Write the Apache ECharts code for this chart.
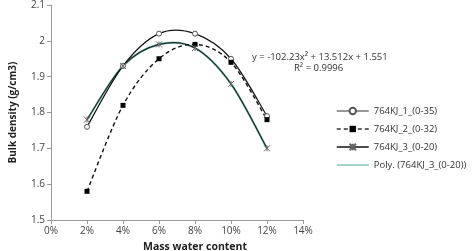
<!DOCTYPE html>
<html><head><meta charset="utf-8">
<script src="https://cdn.jsdelivr.net/npm/echarts@6/dist/echarts.min.js"></script>
<style>html,body{margin:0;padding:0;background:#fff}#c{width:474px;height:251px}</style>
</head><body><div id="c"></div>
<script>
const waterContent = [0.02, 0.04, 0.06, 0.08, 0.10, 0.12];
const s1Name = '764KJ_1_(0-35)';
const s1Values = [1.76, 1.93, 2.02, 2.02, 1.95, 1.79];
const s2Name = '764KJ_2_(0-32)';
const s2Values = [1.58, 1.82, 1.95, 1.99, 1.94, 1.78];
const s3Name = '764KJ_3_(0-20)';
const s3Values = [1.78, 1.93, 1.99, 1.98, 1.88, 1.70];
const polyName = 'Poly. (764KJ_3_(0-20))';
const polyValues = [1.78, 1.93, 1.99, 1.98, 1.88, 1.70];
const xTicks = ['0%','2%','4%','6%','8%','10%','12%','14%'];
const eqText = 'y = -102.23x² + 13.512x + 1.551';
const r2Text = 'R² = 0.9996';

const pair = v => waterContent.map((x, i) => [x, v[i]]);
const font = '"Open Sans", "Noto Sans", sans-serif';
const xMark = 'path://M0,0L10,10M10,0L0,10M5,0L5,10';

// Excel-like smoothed curve (Catmull-Rom Bezier) through points mapped by the axes
function curveSeries(values, lineStyle, z) {
  const pts = pair(values);
  return {
    type: 'custom', z: z, silent: true,
    data: [pts[0]],
    renderItem: (params, api) => {
      const c = pts.map(p => api.coord(p));
      let d = 'M' + c[0][0] + ',' + c[0][1];
      for (let i = 0; i < c.length - 1; i++) {
        const p0 = c[Math.max(i - 1, 0)], p1 = c[i], p2 = c[i + 1], p3 = c[Math.min(i + 2, c.length - 1)];
        const t = 6;
        const c1 = [p1[0] + (p2[0] - p0[0]) / t, p1[1] + (p2[1] - p0[1]) / t];
        const c2 = [p2[0] - (p3[0] - p1[0]) / t, p2[1] - (p3[1] - p1[1]) / t];
        d += 'C' + c1[0] + ',' + c1[1] + ' ' + c2[0] + ',' + c2[1] + ' ' + p2[0] + ',' + p2[1];
      }
      return {type: 'path', shape: {pathData: d},
        style: {fill: 'none', stroke: lineStyle.color, lineWidth: lineStyle.width, lineDash: lineStyle.dash || null}};
    }
  };
}

const TEAL = '#86c4b8';
const L1 = {color: '#111', width: 1.2};
const L2 = {color: '#111', width: 1.4, dash: [4, 3]};
const L3 = {color: '#1a2a28', width: 1.2};
const LP = {color: TEAL, width: 2.2};

const chart = echarts.init(document.getElementById('c'));
chart.setOption({
  animation: false,
  textStyle: {fontFamily: font},
  grid: {left: 47, right: 171, top: 4, bottom: 31},
  xAxis: {
    type: 'value', min: 0, max: 0.14, interval: 0.02,
    axisLine: {lineStyle: {color: '#999'}},
    axisTick: {show: true, length: 4, lineStyle: {color: '#999'}},
    splitLine: {show: false},
    axisLabel: {color: '#444', fontSize: 10, margin: 6,
      formatter: v => xTicks[Math.round(v / 0.02)]}
  },
  yAxis: {
    type: 'value', min: 1.5, max: 2.1, interval: 0.1,
    axisLine: {show: true, lineStyle: {color: '#999'}},
    axisTick: {show: true, length: 4, lineStyle: {color: '#999'}},
    splitLine: {show: false},
    axisLabel: {color: '#444', fontSize: 10, margin: 6,
      formatter: v => String(Math.round(v * 10) / 10)},
    name: 'Bulk density (g/cm3)', nameLocation: 'middle', nameGap: 33,
    nameTextStyle: {color: '#222', fontSize: 10, fontWeight: 'bold'}
  },
  legend: {
    orient: 'vertical', left: 331, top: 101, itemWidth: 32, itemHeight: 8, itemGap: 8,
    textStyle: {color: '#333', fontSize: 9.5},
    data: [
      {name: s1Name, lineStyle: {opacity: 1, color: '#333', width: 1.2}},
      {name: s2Name, lineStyle: {opacity: 1, color: '#333', width: 1.4, type: [4, 3]}},
      {name: s3Name, lineStyle: {opacity: 1, color: '#111', width: 1.4}},
      {name: polyName, lineStyle: {opacity: 1, color: TEAL, width: 1.5}, itemStyle: {opacity: 0}}
    ]
  },
  graphic: [
    {type: 'text', left: 252, top: 52, style: {text: eqText, fill: '#333', font: '9.5px ' + font}},
    {type: 'text', left: 294, top: 63, style: {text: r2Text, fill: '#333', font: '9.5px ' + font}},
    {type: 'text', left: 143, top: 242, style: {text: 'Mass water content', fill: '#222', font: 'bold 10.5px ' + font}}
  ],
  series: [
    curveSeries(polyValues, LP, 1),
    curveSeries(s3Values, L3, 2),
    curveSeries(s1Values, L1, 2),
    curveSeries(s2Values, L2, 2),
    {name: polyName, type: 'line', data: pair(polyValues), symbol: 'none', showSymbol: false,
      lineStyle: {opacity: 0, color: TEAL}, itemStyle: {color: TEAL}, z: 1},
    {name: s1Name, type: 'line', data: pair(s1Values), symbol: 'circle', symbolSize: 5,
      lineStyle: {opacity: 0, color: '#111'},
      itemStyle: {color: '#fff', borderColor: '#555', borderWidth: 1}, z: 3},
    {name: s2Name, type: 'line', data: pair(s2Values), symbol: 'rect', symbolSize: 5,
      lineStyle: {opacity: 0, color: '#111'},
      itemStyle: {color: '#000'}, z: 3},
    {name: s3Name, type: 'line', data: pair(s3Values), symbol: xMark, symbolSize: 6,
      lineStyle: {opacity: 0, color: '#111'},
      itemStyle: {color: '#fff', borderColor: '#666', borderWidth: 1}, z: 3}
  ]
});
</script></body></html>
